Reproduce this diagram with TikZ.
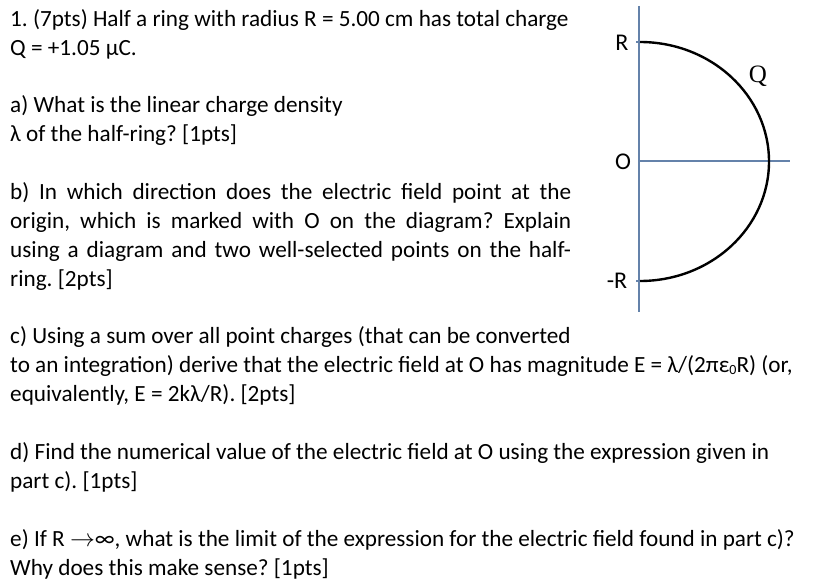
\documentclass[tikz,border=0pt]{standalone}
\usepackage{fontspec}
\setmainfont{Carlito}
\newfontfamily\serf{Liberation Serif}
\frenchspacing
\begin{document}
\begin{tikzpicture}[x=1pt,y=-1pt,
  tx/.style={anchor=base west,inner sep=0pt,font=\fontsize{23.2}{26}\selectfont},
  lab/.style={inner sep=0pt,font=\fontsize{24}{24}\selectfont},
  ax/.style={draw={rgb,255:red,100;green,130;blue,170},line width=1.1pt}]
\useasboundingbox (0,0) rectangle (820,585);
\newcommand{\jl}[1]{\makebox[561pt][s]{#1}}
\node[tx] (l1) at (10,27) {1. (7pts) Half a ring with radius R = 5.00 cm has total charge};
\node[tx] (l2) at (10,56) {Q = +1.05 μC.};
\node[tx] (l3) at (10,113) {a) What is the linear charge density};
\node[tx] (l4) at (10,142) {λ of the half-ring? [1pts]};
\node[tx] (l5) at (10,200) {\jl{b) In which direction does the electric field point at the}};
\node[tx] (l6) at (10,229) {\jl{origin, which is marked with O on the diagram? Explain}};
\node[tx] (l7) at (10,258) {\jl{using a diagram and two well-selected points on the half-}};
\node[tx] (l8) at (10,287) {ring. [2pts]};
\node[tx] (l9) at (10,344) {c) Using a sum over all point charges (that can be converted};
\node[tx] (l10) at (10,373) {to an integration) derive that the electric field at O has magnitude E = λ/(2πε\raisebox{-0.1ex}{\fontsize{14}{14}\selectfont 0}R) (or,};
\node[tx] (l11) at (10,402) {equivalently, E = 2kλ/R). [2pts]};
\node[tx] (l12) at (10,460) {d) Find the numerical value of the electric field at O using the expression given in};
\node[tx] (l13) at (10,489) {part c). [1pts]};
\node[tx] (l14) at (10,546) {e) If R $\rightarrow$∞, what is the limit of the expression for the electric field found in part c)?};
\node[tx] (l15) at (10,575) {Why does this make sense? [1pts]};
% diagram
\coordinate (top) at (639,6);
\coordinate (bot) at (639,312);
\coordinate (O) at (639,161);
\coordinate (right) at (790,161);
\draw[ax] (top) -- (bot);
\draw[ax] (O) -- (right);
\coordinate (tR) at (636,42);
\coordinate (tRe) at (645,42);
\coordinate (tmR) at (636,281);
\coordinate (tmRe) at (645,281);
\draw[ax] (tR) -- (tRe);
\draw[ax] (tmR) -- (tmRe);
\draw[line width=2.4pt] (640,42) arc[start angle=-90,end angle=90,x radius=129,y radius=119.5];
\node[lab] (R) at (622,43) {R};
\node[lab] (mR) at (617,281) {-R};
\node[lab] (Ol) at (623,162) {O};
\node[lab,font=\serf\fontsize{25}{25}\selectfont] (Q) at (758,76) {Q};
\end{tikzpicture}
\end{document}
